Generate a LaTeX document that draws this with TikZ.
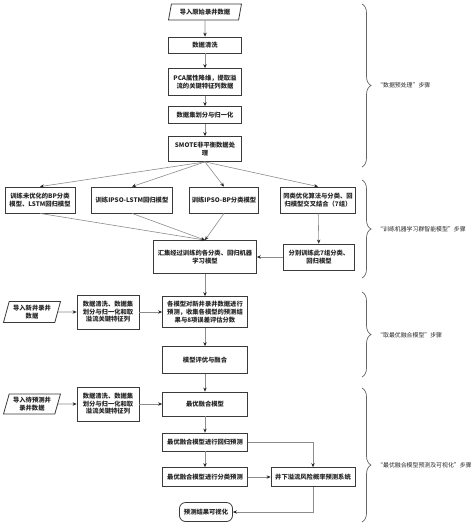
\documentclass[tikz,border=0pt]{standalone}
\usepackage{fontspec}
\setmainfont{Noto Sans CJK SC}
\usetikzlibrary{shapes.geometric,arrows.meta,decorations.pathreplacing}
\definecolor{linegray}{HTML}{8C8C8C}
\definecolor{boxgray}{HTML}{3A3A3A}
\definecolor{txtgray}{HTML}{262626}

\begin{document}
\begin{tikzpicture}[x=1pt,y=-1pt,font=\fontsize{6.3}{7.6}\selectfont\bfseries]
%style for process box
\tikzstyle{pbox} = [rectangle, draw=boxgray, line width=0.8pt, fill=white, align=center, inner sep=1pt, text=txtgray]

%style for data input
\tikzstyle{iobox} = [trapezium, trapezium left angle=70, trapezium right angle=110, trapezium stretches body, draw=boxgray, line width=0.8pt, fill=white, align=center, inner sep=1pt, text=txtgray]

%style for end box
\tikzstyle{endbox} = [rectangle, rounded corners=6pt, draw=boxgray, line width=0.8pt, fill=white, align=center, inner sep=1pt, text=txtgray]

%style for connectors
\tikzstyle{flow} = [draw=linegray, line width=0.6pt, -{Stealth[length=4pt,width=3.4pt,color=black!85]}]

%style for step braces and their texts
\tikzstyle{stepbrace} = [decorate, decoration={brace,amplitude=9pt}, draw=black!60, line width=0.7pt]
\tikzstyle{steptext} = [anchor=west, inner sep=0pt, font=\fontsize{5.9}{7}\selectfont, text=txtgray]

\useasboundingbox (0,0) rectangle (474,526);

%data preprocessing column
\node[iobox, minimum width=73pt, minimum height=16pt](rawdata) at (205,12) {导入原始录井数据};
\node[pbox, minimum width=73pt, minimum height=16pt](clean) at (205,45) {数据清洗};
\node[pbox, minimum width=73pt, minimum height=27pt](pca) at (205,82) {PCA属性降维，提取溢\\流的关键特征列数据};
\node[pbox, minimum width=73pt, minimum height=17pt](split) at (205,115) {数据集划分与归一化};
\node[pbox, minimum width=73pt, minimum height=25pt](smote) at (205,149) {SMOTE非平衡数据处\\理};

%training row
\node[pbox, minimum width=70pt, minimum height=26pt](bpraw) at (40,200) {训练未优化的BP分类\\模型、LSTM回归模型};
\node[pbox, minimum width=81pt, minimum height=26pt](ipsolstm) at (132,200) {训练IPSO-LSTM回归模型};
\node[pbox, minimum width=69pt, minimum height=26pt](ipsobp) at (224,200) {训练IPSO-BP分类模型};
\node[pbox, minimum width=75pt, minimum height=26pt](cross) at (318,200) {同类优化算法与分类、回\\归模型交叉结合（7组）};
\node[pbox, minimum width=103pt, minimum height=33pt](gather) at (205,257) {汇集经过训练的各分类、回归机器\\学习模型};
\node[pbox, minimum width=71pt, minimum height=26pt](train7) at (319,257) {分别训练此7组分类、\\回归模型};

%fusion row
\node[iobox, minimum width=57pt, minimum height=21pt](newwell) at (32,312) {导入新井录井\\数据};
\node[pbox, minimum width=62pt, minimum height=34pt](newprep) at (108,312) {数据清洗、数据集\\划分与归一化和取\\溢流关键特征列};
\node[pbox, minimum width=85pt, minimum height=31pt](predict) at (205,312) {各模型对新井录井数据进行\\预测，收集各模型的预测结\\果与8项误差评估分数};
\node[pbox, minimum width=85pt, minimum height=27pt](fuse) at (205,360) {模型评优与融合};

%prediction rows
\node[iobox, minimum width=57pt, minimum height=20pt](pendwell) at (32,404) {导入待预测井\\录井数据};
\node[pbox, minimum width=62pt, minimum height=34pt](pendprep) at (108,404) {数据清洗、数据集\\划分与归一化和取\\溢流关键特征列};
\node[pbox, minimum width=85pt, minimum height=24pt](best) at (205,404) {最优融合模型};
\node[pbox, minimum width=85pt, minimum height=18pt](bestreg) at (205,442) {最优融合模型进行回归预测};
\node[pbox, minimum width=85pt, minimum height=19pt](bestcls) at (205,477) {最优融合模型进行分类预测};
\node[pbox, minimum width=84pt, minimum height=19pt](risksys) at (313,477) {井下溢流风险概率预测系统};
\node[endbox, minimum width=53pt, minimum height=19pt](visual) at (206,512) {预测结果可视化};

%connect nodes with lines
\draw[flow] (rawdata) -- (clean);
\draw[flow] (clean) -- (pca);
\draw[flow] (pca) -- (split);
\draw[flow] (split) -- (smote);
\draw[flow] (smote.south) -- (bpraw.north);
\draw[flow] (smote.south) -- (ipsolstm.north);
\draw[flow] (smote.south) -- (ipsobp.north);
\draw[flow] (smote.south) -- (cross.north);
\draw[flow] (bpraw.south) -- (gather.north);
\draw[flow] (ipsolstm.south) -- (gather.north);
\draw[flow] (ipsobp.south) -- (gather.north);
\draw[flow] (cross) -- (train7);
\draw[flow] (train7) -- (gather);
\draw[flow] (gather) -- (predict);
\draw[flow] (newwell) -- (newprep);
\draw[flow] (newprep) -- (predict);
\draw[flow] (predict) -- (fuse);
\draw[flow] (fuse) -- (best);
\draw[flow] (pendwell) -- (pendprep);
\draw[flow] (pendprep) -- (best);
\draw[flow] (best) -- (bestreg);
\draw[flow] (bestreg) -- (bestcls);
\draw[flow] (bestcls) -- (risksys);
\draw[flow] (bestreg.east) -| (risksys.north);
\draw[flow] (risksys.south) |- (visual.east);

%step braces
\draw[stepbrace] (362,4) -- (362,167);
\draw[stepbrace] (362,180) -- (362,278);
\draw[stepbrace] (362,292) -- (362,377);
\draw[stepbrace, decoration={aspect=0.575}] (362,388) -- (362,522);
\node[steptext](step1) at (377,85) {“数据预处理”步骤};
\node[steptext](step2) at (377,229) {“训练机器学习群智能模型”步骤};
\node[steptext](step3) at (377,335) {“取最优融合模型”步骤};
\node[steptext](step4) at (377,465) {“最优融合模型预测及可视化”步骤};
\end{tikzpicture}
\end{document}
